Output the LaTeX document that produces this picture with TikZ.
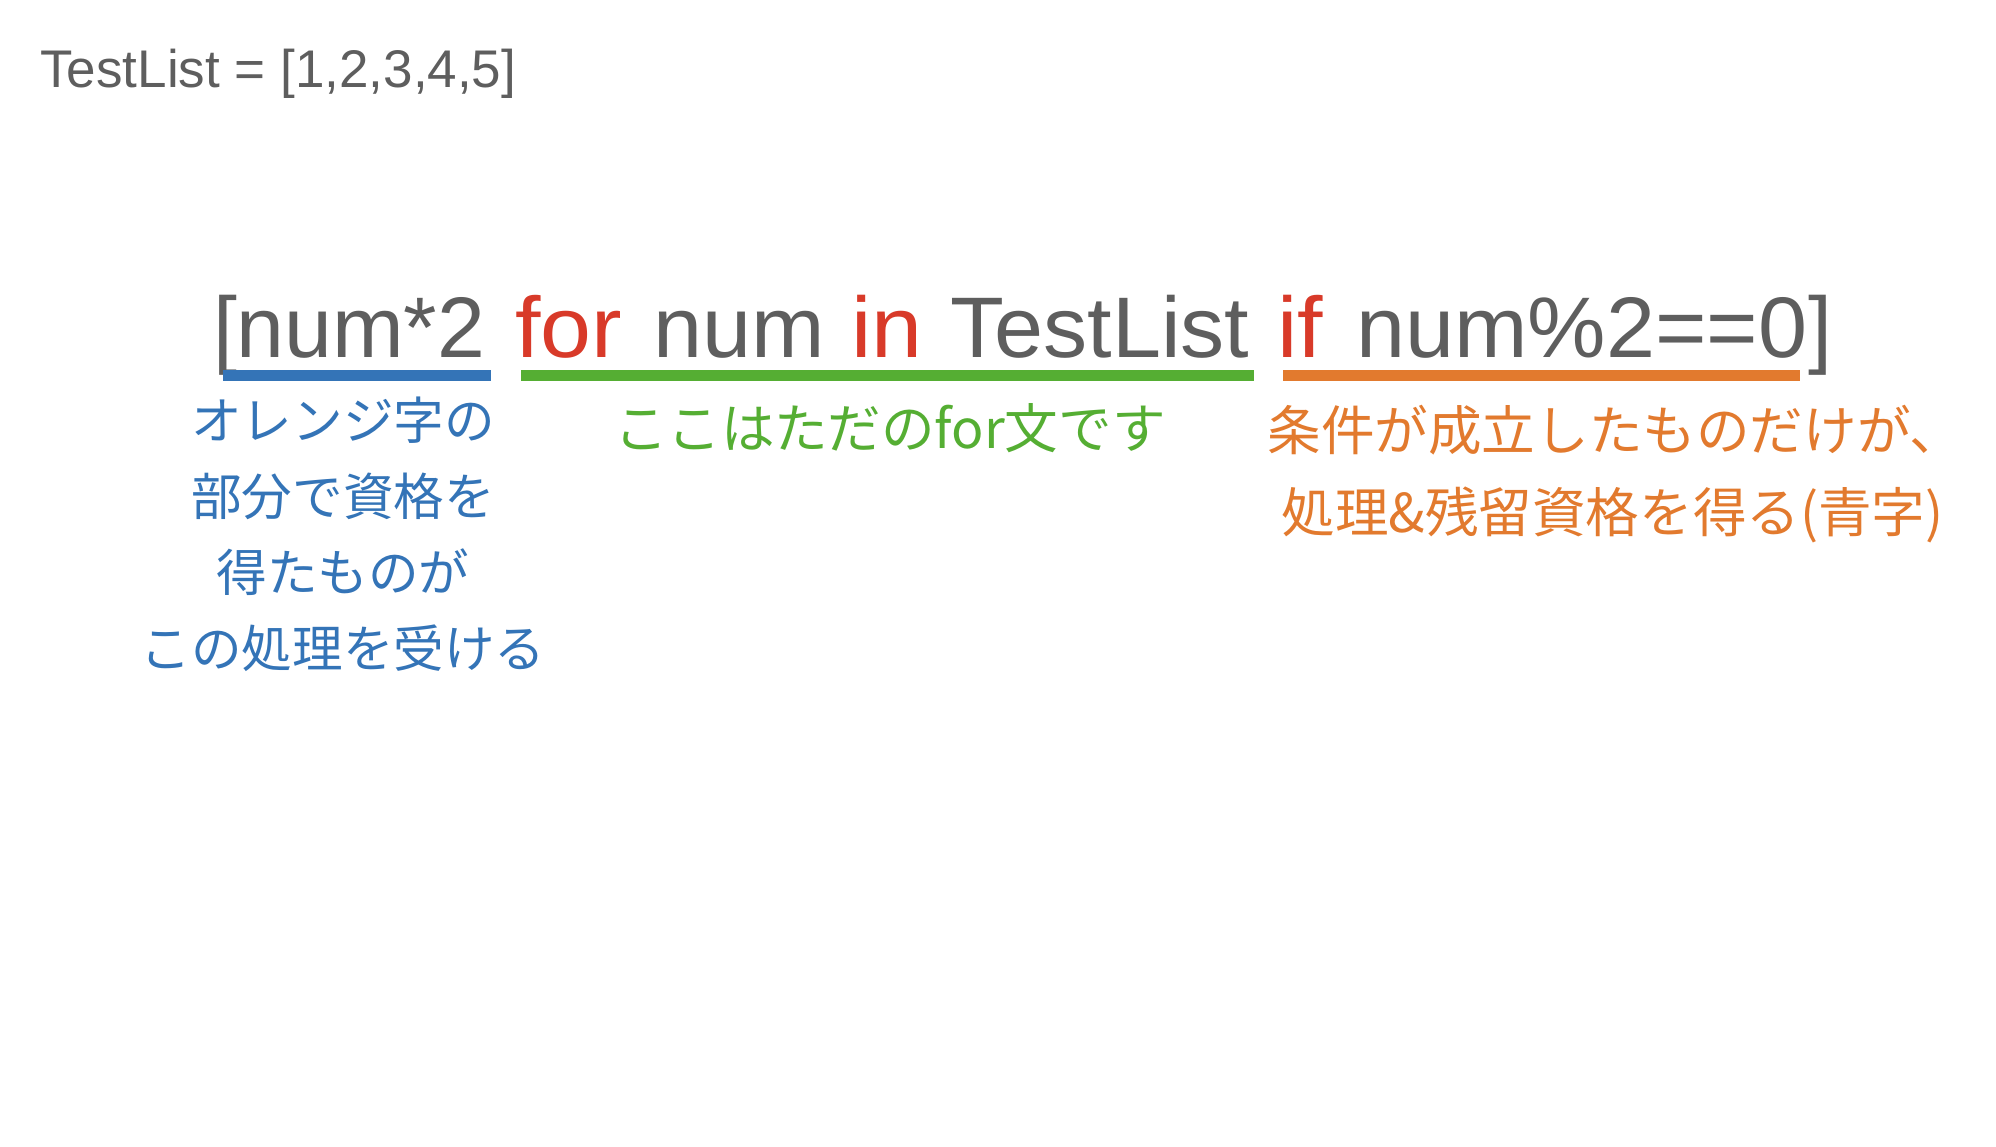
\documentclass[tikz,border=0pt]{standalone}
\usepackage{fontspec}
\setmainfont{Liberation Sans}
\newfontfamily\codefont{Liberation Sans}
\newfontfamily\codefontw[FakeStretch=1.025]{Liberation Sans}
\newfontfamily\codefontww[FakeStretch=1.065]{Liberation Sans}
\newfontfamily\jpfont{Noto Sans CJK JP}
\definecolor{codegray}{HTML}{5E5E5E}
\definecolor{kwred}{HTML}{D83A29}
\definecolor{lblue}{HTML}{3474B7}
\definecolor{lgreen}{HTML}{55AE33}
\definecolor{lorange}{HTML}{E27A2E}
\begin{document}
\begin{tikzpicture}[x=0.5pt,y=-0.5pt,
  code/.style={anchor=base west, inner sep=0pt, font=\codefont\fontsize{43}{50}\selectfont, text=codegray},
  codew/.style={code, font=\codefontw\fontsize{43}{50}\selectfont},
  codeww/.style={code, font=\codefontww\fontsize{43}{50}\selectfont},
  kw/.style={codeww, text=kwred},
  jplabel/.style={inner sep=0pt, font=\jpfont\fontsize{25.3}{38}\selectfont}]
\useasboundingbox (0,0) rectangle (1996,1146);
% definition line
\node[anchor=base west, inner sep=0pt, font=\fontsize{26.5}{30}\selectfont, text=codegray] (def) at (40,87) {TestList = [1,2,3,4,5]};
% list comprehension
\node[code] (lb) at (213,357) {[};
\node[code] (expr) at (236,357) {num*2};
\node[kw] (for) at (515,357) {for};
\node[codew] (var) at (653,357) {num};
\node[kw] (in) at (851,357) {in};
\node[codew] (lst) at (950,357) {TestList};
\node[kw] (if) at (1277,357) {if};
\node[codew] (cond) at (1356,357) {num\%2==0};
\node[code, anchor=base east] (rb) at (1833,357) {]};
% underlines
\fill[lblue] (223,370) rectangle (491,381);
\fill[lgreen] (521,370) rectangle (1254,381);
\fill[lorange] (1283,370) rectangle (1800,381);
% labels
\node[jplabel, text=lblue, align=center] (bluelabel) at (343,534) {オレンジ字の\\部分で資格を\\得たものが\\この処理を受ける};
\node[jplabel, text=lgreen, font=\jpfont\fontsize{26.8}{38}\selectfont] (greenlabel) at (890,428) {ここはただのfor文です};
\node[jplabel, text=lorange, anchor=west, font=\jpfont\fontsize{26.8}{38}\selectfont] (orange1) at (1267,430) {条件が成立したものだけが、};
\node[jplabel, text=lorange, anchor=west, font=\jpfont\fontsize{26.8}{38}\selectfont] (orange2) at (1281,515) {処理\&残留資格を得る(青字)};
\end{tikzpicture}
\end{document}
